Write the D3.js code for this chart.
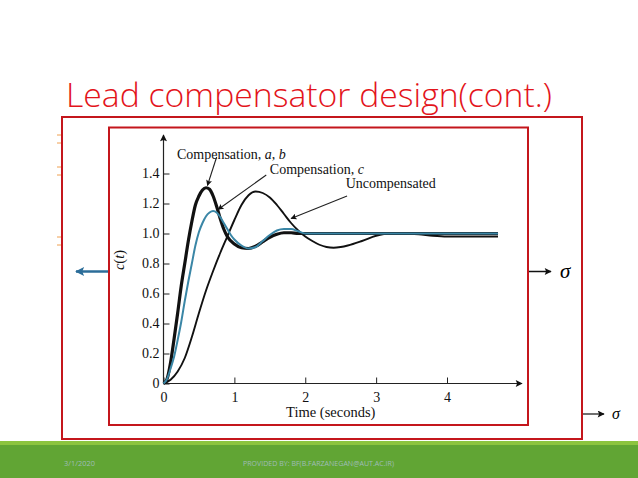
<!DOCTYPE html>
<html>
<head>
<meta charset="utf-8">
<script src="https://cdn.jsdelivr.net/npm/d3@7"></script>
<style>
  body { margin: 0; background: #fff; }
  svg { display: block; }
</style>
</head>
<body>
<svg width="638" height="478"></svg>
<script>
// step responses
const tAB = [0, 0.05, 0.1, 0.15, 0.2, 0.25, 0.3, 0.35, 0.4, 0.45, 0.5, 0.55, 0.6, 0.65, 0.7, 0.75, 0.8, 0.85, 0.9, 1.0, 1.1, 1.2, 1.3, 1.4, 1.5, 1.6, 1.7, 1.8, 1.9, 2.0, 2.5, 3.0, 3.5, 4.0, 4.5, 4.72]
const cAB = [0, 0.03, 0.14, 0.3, 0.47, 0.65, 0.8, 0.95, 1.08, 1.19, 1.25, 1.29, 1.305, 1.295, 1.25, 1.18, 1.1, 1.03, 0.98, 0.93, 0.905, 0.9, 0.915, 0.945, 0.975, 0.995, 1.005, 1.005, 1.0, 1.0, 1.0, 1.0, 1.0, 1.0, 1.0, 1.0]

const tC = [0, 0.05, 0.1, 0.15, 0.2, 0.25, 0.3, 0.35, 0.4, 0.45, 0.5, 0.55, 0.6, 0.65, 0.7, 0.75, 0.8, 0.85, 0.9, 0.95, 1.0, 1.1, 1.2, 1.3, 1.4, 1.5, 1.6, 1.7, 1.8, 1.9, 2.0, 2.5, 3.0, 3.5, 4.0, 4.5, 4.72]
const cC = [0, 0.03, 0.1, 0.18, 0.29, 0.41, 0.55, 0.68, 0.8, 0.92, 1.01, 1.07, 1.115, 1.14, 1.15, 1.14, 1.11, 1.07, 1.03, 0.99, 0.96, 0.92, 0.9, 0.91, 0.95, 0.99, 1.02, 1.03, 1.03, 1.015, 1.0, 1.0, 1.0, 1.0, 1.0, 1.0, 1.0]

const tU = [0, 0.1, 0.2, 0.3, 0.4, 0.5, 0.6, 0.7, 0.8, 0.9, 1.0, 1.1, 1.2, 1.3, 1.4, 1.5, 1.6, 1.7, 1.8, 1.9, 2.0, 2.1, 2.2, 2.3, 2.4, 2.5, 2.6, 2.8, 3.0, 3.2, 3.4, 3.6, 3.8, 4.0, 4.5, 4.72]
const cU = [0, 0.025, 0.08, 0.17, 0.31, 0.47, 0.62, 0.75, 0.87, 0.98, 1.09, 1.19, 1.255, 1.28, 1.27, 1.24, 1.19, 1.13, 1.07, 1.02, 0.98, 0.95, 0.925, 0.91, 0.905, 0.91, 0.92, 0.95, 0.985, 1.0, 1.0, 0.995, 0.985, 0.98, 0.98, 0.98]

const xTicks = [0, 1, 2, 3, 4]
const yTicks = [0, 0.2, 0.4, 0.6, 0.8, 1.0, 1.2, 1.4]

// annotation labels and arrows, in data units
const notes = [
  { text: ["Compensation, ", "a", ", ", "b"], at: [0.19, 1.495], from: [0.75, 1.51], to: [0.62, 1.32] },
  { text: ["Compensation, ", "c"], at: [1.5, 1.4], from: [1.45, 1.39], to: [0.77, 1.16] },
  { text: ["Uncompensated"], at: [2.57, 1.305], from: [2.59, 1.25], to: [1.8, 1.1] }
]

const svg = d3.select("svg")
const serif = "'Liberation Serif', 'DejaVu Serif', serif"
const red = "#c4161c"

const defs = svg.append("defs")
const marker = (id, color, w, h) => {
  defs.append("marker")
    .attr("id", id)
    .attr("viewBox", "0 0 10 10")
    .attr("refX", 9).attr("refY", 5)
    .attr("markerWidth", w).attr("markerHeight", h)
    .attr("markerUnits", "userSpaceOnUse")
    .attr("orient", "auto")
    .append("path")
    .attr("d", "M0,0 L10,5 L0,10 L2,5 Z")
    .attr("fill", color)
}
marker("head", "#111", 11, 7)
marker("note", "#111", 10, 6)
marker("blue", "#2c6d99", 12, 9)

// title
svg.append("text")
  .attr("x", 66).attr("y", 106.5)
  .attr("font-family", "'Open Sans', sans-serif")
  .attr("font-weight", 300)
  .attr("font-size", 33.5)
  .attr("fill", "#e3141b")
  .attr("textLength", 486)
  .attr("lengthAdjust", "spacingAndGlyphs")
  .text("Lead compensator design(cont.)")

// outer frame and the bits of the old figure around it
svg.append("rect")
  .attr("x", 62).attr("y", 117).attr("width", 520).attr("height", 322)
  .attr("fill", "#fff").attr("stroke", red).attr("stroke-width", 2)

svg.append("g").selectAll("line")
  .data([135, 143, 167, 175, 237, 245])
  .join("line")
  .attr("x1", 57).attr("x2", 61).attr("y1", (d) => d).attr("y2", (d) => d)
  .attr("stroke", "#f0a050").attr("stroke-width", 1)

svg.append("line")
  .attr("x1", 108).attr("x2", 76).attr("y1", 271.5).attr("y2", 271.5)
  .attr("stroke", "#2c6d99").attr("stroke-width", 2.5)
  .attr("marker-end", "url(#blue)")

svg.append("line")
  .attr("x1", 529).attr("x2", 551).attr("y1", 271.5).attr("y2", 271.5)
  .attr("stroke", "#111").attr("stroke-width", 1.5)
  .attr("marker-end", "url(#head)")
svg.append("text")
  .attr("x", 560).attr("y", 278)
  .attr("font-family", serif).attr("font-style", "italic").attr("font-size", 21)
  .text("σ")

svg.append("line")
  .attr("x1", 583).attr("x2", 604).attr("y1", 414).attr("y2", 414)
  .attr("stroke", "#111").attr("stroke-width", 1.2)
  .attr("marker-end", "url(#head)")
svg.append("text")
  .attr("x", 612).attr("y", 418.5)
  .attr("font-family", serif).attr("font-style", "italic").attr("font-size", 16)
  .text("σ")

// inner frame (the pasted plot)
svg.append("rect")
  .attr("x", 109).attr("y", 127.5).attr("width", 419).attr("height", 297.5)
  .attr("fill", "#fff").attr("stroke", red).attr("stroke-width", 2)

const x = d3.scaleLinear().domain([0, 4]).range([163.5, 447])
const y = d3.scaleLinear().domain([0, 1.4]).range([383.5, 173.5])

const plot = svg.append("g")

// axes, ticks point into the plot
const xAxis = plot.append("g")
  .attr("transform", `translate(0,${y(0)})`)
  .call(d3.axisBottom(x).tickValues(xTicks).tickSize(-6).tickPadding(9).tickFormat(d3.format("d")))
xAxis.select(".domain").remove()
xAxis.selectAll("line").attr("stroke", "#222")
xAxis.selectAll("text").attr("font-family", serif).attr("font-size", 14).attr("fill", "#111")

const yAxis = plot.append("g")
  .attr("transform", `translate(${x(0)},0)`)
  .call(d3.axisLeft(y).tickValues(yTicks).tickSize(-6).tickPadding(4)
    .tickFormat((d) => (d === 0 ? "0" : d3.format(".1f")(d))))
yAxis.select(".domain").remove()
yAxis.selectAll("line").attr("stroke", "#222")
yAxis.selectAll("text").attr("font-family", serif).attr("font-size", 14).attr("fill", "#111")

plot.append("line")
  .attr("x1", x(0)).attr("x2", 522).attr("y1", y(0)).attr("y2", y(0))
  .attr("stroke", "#222").attr("stroke-width", 1.2)
  .attr("marker-end", "url(#head)")
plot.append("line")
  .attr("x1", x(0)).attr("x2", x(0)).attr("y1", y(0)).attr("y2", 135)
  .attr("stroke", "#222").attr("stroke-width", 1.2)
  .attr("marker-end", "url(#head)")

plot.append("text")
  .attr("x", x(2.36)).attr("y", 417)
  .attr("text-anchor", "middle")
  .attr("font-family", serif).attr("font-size", 14.5).attr("fill", "#111")
  .text("Time (seconds)")

const yl = plot.append("text")
  .attr("transform", "translate(124,260) rotate(-90)")
  .attr("text-anchor", "middle")
  .attr("font-family", serif).attr("font-size", 14.5).attr("fill", "#111")
yl.append("tspan").attr("font-style", "italic").text("c")
yl.append("tspan").text("(")
yl.append("tspan").attr("font-style", "italic").text("t")
yl.append("tspan").text(")")

// curves
const line = d3.line()
  .x((d) => x(d[0]))
  .y((d) => y(d[1]))
  .curve(d3.curveMonotoneX)

const series = [
  { t: tU, c: cU, color: "#111", width: 1.9 },
  { t: tAB, c: cAB, color: "#111", width: 3.2 },
  { t: tC, c: cC, color: "#3a86a6", width: 2 }
]
plot.append("g").selectAll("path")
  .data(series)
  .join("path")
  .attr("d", (s) => line(d3.zip(s.t, s.c)))
  .attr("fill", "none")
  .attr("stroke", (s) => s.color)
  .attr("stroke-width", (s) => s.width)
  .attr("stroke-linejoin", "round")

// annotations
const ann = plot.append("g")
ann.selectAll("line")
  .data(notes)
  .join("line")
  .attr("x1", (d) => x(d.from[0])).attr("y1", (d) => y(d.from[1]))
  .attr("x2", (d) => x(d.to[0])).attr("y2", (d) => y(d.to[1]))
  .attr("stroke", "#222").attr("stroke-width", 1.1)
  .attr("marker-end", "url(#note)")
ann.selectAll("text")
  .data(notes)
  .join("text")
  .attr("x", (d) => x(d.at[0])).attr("y", (d) => y(d.at[1]))
  .attr("font-family", serif).attr("font-size", 14).attr("fill", "#111")
  .each(function (d) {
    d3.select(this).selectAll("tspan")
      .data(d.text)
      .join("tspan")
      .attr("font-style", (s) => (s.length === 1 ? "italic" : null))
      .text((s) => s)
  })

// footer band
svg.append("rect").attr("x", 0).attr("y", 441).attr("width", 638).attr("height", 37).attr("fill", "#61a534")
svg.append("rect").attr("x", 0).attr("y", 441).attr("width", 638).attr("height", 4).attr("fill", "#8cc43f")
svg.append("text")
  .attr("x", 64).attr("y", 465.5)
  .attr("font-family", "'Open Sans', sans-serif").attr("font-size", 7).attr("fill", "#9fbcb8")
  .attr("textLength", 31).attr("lengthAdjust", "spacingAndGlyphs")
  .text("3/1/2020")
svg.append("text")
  .attr("x", 243).attr("y", 465.5)
  .attr("font-family", "'Open Sans', sans-serif").attr("font-size", 7).attr("fill", "#9fbcb8")
  .attr("textLength", 151).attr("lengthAdjust", "spacingAndGlyphs")
  .text("PROVIDED BY: BF(B.FARZANEGAN@AUT.AC.IR)")
</script>
</body>
</html>
